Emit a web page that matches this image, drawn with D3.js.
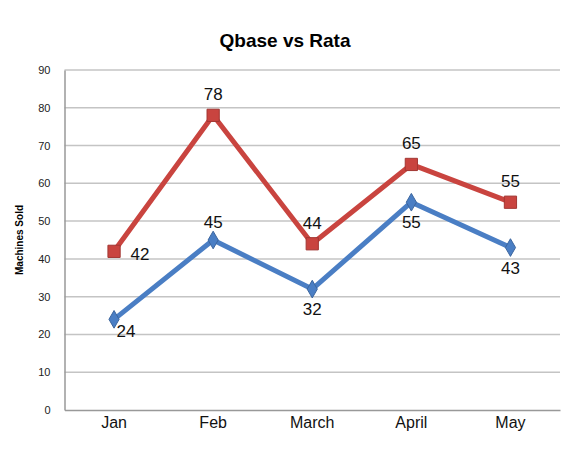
<!DOCTYPE html>
<html>
<head>
<meta charset="utf-8">
<script src="https://cdn.jsdelivr.net/npm/d3@7"></script>
<style>
  body { margin: 0; background: #fff; }
  svg { font-family: "Liberation Sans", Arial, sans-serif; }
</style>
</head>
<body>
<svg id="chart" width="584" height="467"></svg>
<script>
const months = ["Jan", "Feb", "March", "April", "May"];
const rata = [42, 78, 44, 65, 55];
const qbase = [24, 45, 32, 55, 43];
const yTicks = [0, 10, 20, 30, 40, 50, 60, 70, 80, 90];

// label placement per point: [dx, dy]
const rataLabelPos = [[26, 9], [0, -15], [0, -15], [0, -15], [0, -15]];
const qbasePos = [[12, 18], [0, -12], [0, 26], [0, 26], [0, 26]];

const svg = d3.select("#chart");
const plotLeft = 64.5, plotRight = 560, plotTop = 70, plotBottom = 410;

const x = d3.scaleBand().domain(months).range([plotLeft, plotRight]);
const y = d3.scaleLinear().domain([0, 90]).range([plotBottom, plotTop]);

svg.append("text")
  .attr("x", 285).attr("y", 47)
  .attr("text-anchor", "middle")
  .attr("font-size", 19).attr("font-weight", "bold")
  .text("Qbase vs Rata");

// gridlines
svg.append("g")
  .selectAll("line")
  .data(yTicks.filter(d => d > 0))
  .join("line")
  .attr("x1", plotLeft).attr("x2", plotRight)
  .attr("y1", d => y(d)).attr("y2", d => y(d))
  .attr("stroke", "#c4c4c4").attr("stroke-width", 1.5);

const yAxis = svg.append("g")
  .attr("transform", `translate(${plotLeft},0)`)
  .call(d3.axisLeft(y).tickValues(yTicks).tickSize(0).tickPadding(14));
yAxis.select(".domain").attr("stroke", "#999").attr("stroke-width", 1.5);
yAxis.selectAll("text").attr("font-size", 11).attr("fill", "#222");

const xAxis = svg.append("g")
  .attr("transform", `translate(0,${plotBottom})`)
  .call(d3.axisBottom(x).tickSize(0).tickPadding(7));
xAxis.select(".domain").attr("stroke", "#999").attr("stroke-width", 1.5);
xAxis.selectAll("text").attr("font-size", 16).attr("fill", "#111");

svg.append("text")
  .attr("transform", `translate(23,${(plotTop + plotBottom) / 2}) rotate(-90)`)
  .attr("text-anchor", "middle")
  .attr("font-size", 10).attr("font-weight", "bold")
  .text("Machines Sold");

const cx = (d, i) => x(months[i]) + x.bandwidth() / 2;
const line = d3.line().x(cx).y(d => y(d));

function drawSeries(vals, color, shape, pos) {
  svg.append("path")
    .datum(vals)
    .attr("d", line)
    .attr("fill", "none")
    .attr("stroke", color)
    .attr("stroke-width", 5)
    .attr("stroke-linejoin", "round");
  svg.append("g")
    .selectAll("path")
    .data(vals)
    .join("path")
    .attr("d", d3.symbol(shape, shape === d3.symbolSquare ? 150 : 90))
    .attr("transform", (d, i) => `translate(${cx(d, i)},${y(d)})`)
    .attr("fill", color)
    .attr("stroke", d3.color(color).darker(0.6))
    .attr("stroke-width", 1);
  svg.append("g")
    .selectAll("text")
    .data(vals)
    .join("text")
    .attr("x", (d, i) => cx(d, i) + pos[i][0])
    .attr("y", (d, i) => y(d) + pos[i][1])
    .attr("text-anchor", "middle")
    .attr("font-size", 17).attr("fill", "#111")
    .text(d => d);
}

drawSeries(rata, "#c9443f", d3.symbolSquare, rataLabelPos);
drawSeries(qbase, "#4a7ec4", d3.symbolDiamond, qbasePos);
</script>
</body>
</html>
